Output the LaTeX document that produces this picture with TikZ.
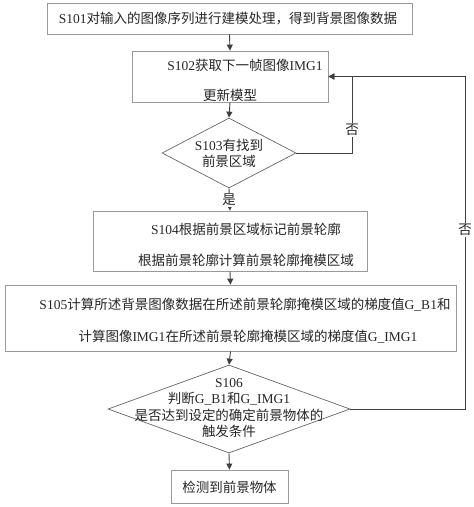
\documentclass[tikz,border=0pt]{standalone}
\usepackage{fontspec}
\setmainfont{Noto Sans CJK SC}
\newfontfamily\lat{Liberation Serif}
\usetikzlibrary{shapes.geometric,arrows.meta}
\definecolor{boxc}{HTML}{9A9A9A}
\definecolor{linec}{HTML}{404040}
\definecolor{txtc}{HTML}{262626}
\tikzset{
  box/.style={draw=boxc, line width=0.8pt, rectangle, inner sep=0pt},
  dia/.style={draw=linec!80, line width=0.7pt, diamond, inner sep=0pt},
  txt/.style={text=txtc, inner sep=0pt, font=\fontsize{13.5}{16.5}\selectfont, align=center},
  arr/.style={draw=linec, line width=0.9pt, -{Triangle[length=6pt,width=6pt]}},
  lbl/.style={text=txtc, fill=white, inner sep=1pt, font=\fontsize{13.5}{16}\selectfont}
}
\begin{document}
\begin{tikzpicture}[x=1pt,y=-1pt]
\useasboundingbox (0,0) rectangle (474,507);
% boxes
\node[box, minimum width=365, minimum height=31] (b1) at (229.5,18.5) {};
\node[box, minimum width=196, minimum height=51] (b2) at (230,76.5) {};
\node[dia, minimum width=134, minimum height=70] (d1) at (229,153) {};
\node[box, minimum width=274, minimum height=60] (b3) at (230,241) {};
\node[box, minimum width=451, minimum height=66] (b4) at (230.5,318) {};
\node[dia, minimum width=242, minimum height=88] (d2) at (229,409) {};
\node[box, minimum width=117, minimum height=33] (b5) at (229.5,486.5) {};
% texts
\node[txt] (t1) at (228,18.5) {{\lat S101}对输入的图像序列进行建模处理，得到背景图像数据};
\node[txt] (t2a) at (245,65) {{\lat S102}获取下一帧图像{\lat IMG1}};
\node[txt] (t2b) at (230,95) {更新模型};
\node[txt] (t3) at (229,153.5) {{\lat S103}有找到\\前景区域};
\node[txt] (t4a) at (246,229) {{\lat S104}根据前景区域标记前景轮廓};
\node[txt] (t4b) at (246,260) {根据前景轮廓计算前景轮廓掩模区域};
\node[txt] (t5a) at (245,305) {{\lat S105}计算所述背景图像数据在所述前景轮廓掩模区域的梯度值{\lat G\_B1}和};
\node[txt] (t5b) at (248,337) {计算图像{\lat IMG1}在所述前景轮廓掩模区域的梯度值{\lat G\_IMG1}};
\node[txt] (t6) at (229,408) {{\lat S106}\\判断{\lat G\_B1}和{\lat G\_IMG1}\\是否达到设定的确定前景物体的\\触发条件};
\node[txt] (t7) at (229.5,487) {检测到前景物体};
% connectors
\coordinate (c1) at (352,153);
\coordinate (c2) at (465,409);
\draw[arr] (b1.south) -- (b2.north);
\draw[arr] (b2.south) -- (d1.north);
\draw[arr] (d1.south) -- (b3.north);
\draw[arr] (b3.south) -- (b4.north);
\draw[arr] (b4.south) -- (d2.north);
\draw[arr] (d2.south) -- (b5.north);
\draw[arr] (d1.east) -- (c1) |- (b2.east);
\draw[arr] (d2.east) -- (c2) |- (b2.east);
% labels
\node[lbl] (yes) at (229,200) {是};
\node[lbl] (no1) at (352,130) {否};
\node[lbl] (no2) at (465,230) {否};
\end{tikzpicture}
\end{document}
